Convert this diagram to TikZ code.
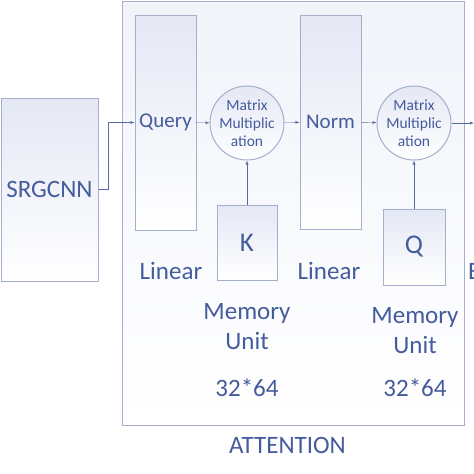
\documentclass[tikz,border=0pt]{standalone}
\usepackage{fontspec}
\setmainfont{Carlito}
\usetikzlibrary{arrows,shapes,calc}

\definecolor{txtblue}{RGB}{68,92,158}
\definecolor{edgegray}{RGB}{165,175,205}
\definecolor{arrowblue}{RGB}{85,105,165}
\definecolor{boxtop}{RGB}{228,232,244}

\tikzset{
	block/.style={rectangle, draw=edgegray, line width=1pt, top color=boxtop, bottom color=white, inner sep=0pt, text=txtblue},
	mult/.style={circle, draw=edgegray, line width=1pt, top color=boxtop, bottom color=white, inner sep=0pt, minimum size=74pt, align=center, text=txtblue, font=\fontsize{15.5}{18}\selectfont},
	label/.style={text=txtblue, inner sep=0pt, align=center, font=\fontsize{25}{30}\selectfont}
}

\begin{document}
\begin{tikzpicture}[x=1pt, y=-1pt, >=latex]
		\useasboundingbox (0,0) rectangle (474,474);
		\path (293, 213) node[block, minimum width=342pt, minimum height=424pt, top color=boxtop!50] (attn) {}
		(49.5, 189.5) node[block, minimum width=97pt, minimum height=183pt, font=\fontsize{25}{30}\selectfont] (srgcnn) {SRGCNN}
		(165.5, 122.5) node[block, minimum width=61pt, minimum height=215pt, font=\fontsize{21}{25}\selectfont] (query) {Query}
		(247, 123) node[mult] (mm1) {Matrix\\Multiplic\\ation}
		(330.5, 122) node[block, minimum width=61pt, minimum height=214pt, font=\fontsize{21}{25}\selectfont] (norm) {Norm}
		(414, 123) node[mult] (mm2) {Matrix\\Multiplic\\ation}
		(247, 242.5) node[block, minimum width=60pt, minimum height=75pt, font=\fontsize{27}{30}\selectfont] (k) {K}
		(414, 247) node[block, minimum width=62pt, minimum height=76pt, font=\fontsize{27}{30}\selectfont] (q) {Q}
		(171, 271) node[label] (lin1) {Linear}
		(329, 271) node[label] (lin2) {Linear}
		(247, 327) node[label] (mem1) {Memory\\Unit}
		(415, 331) node[label] (mem2) {Memory\\Unit}
		(247, 388) node[label] (dim1) {32*64}
		(415, 388) node[label] (dim2) {32*64}
		(287.5, 445) node[label] (attnlabel) {ATTENTION}
		(468, 271) node[label, anchor=west] (next) {E};
		\coordinate (out) at (474, 123);

		\draw[->, arrowblue] (srgcnn.east) -- ++(10,0) |- (query.west);
		\draw[->, arrowblue] (query) -- (mm1);
		\draw[->, arrowblue] (mm1) -- (norm);
		\draw[->, arrowblue] (norm) -- (mm2);
		\draw[->, arrowblue] (mm2) -- (out);
		\draw[->, arrowblue] (k) -- (mm1);
		\draw[->, arrowblue] (q) -- (mm2);
	\end{tikzpicture}
\end{document}
